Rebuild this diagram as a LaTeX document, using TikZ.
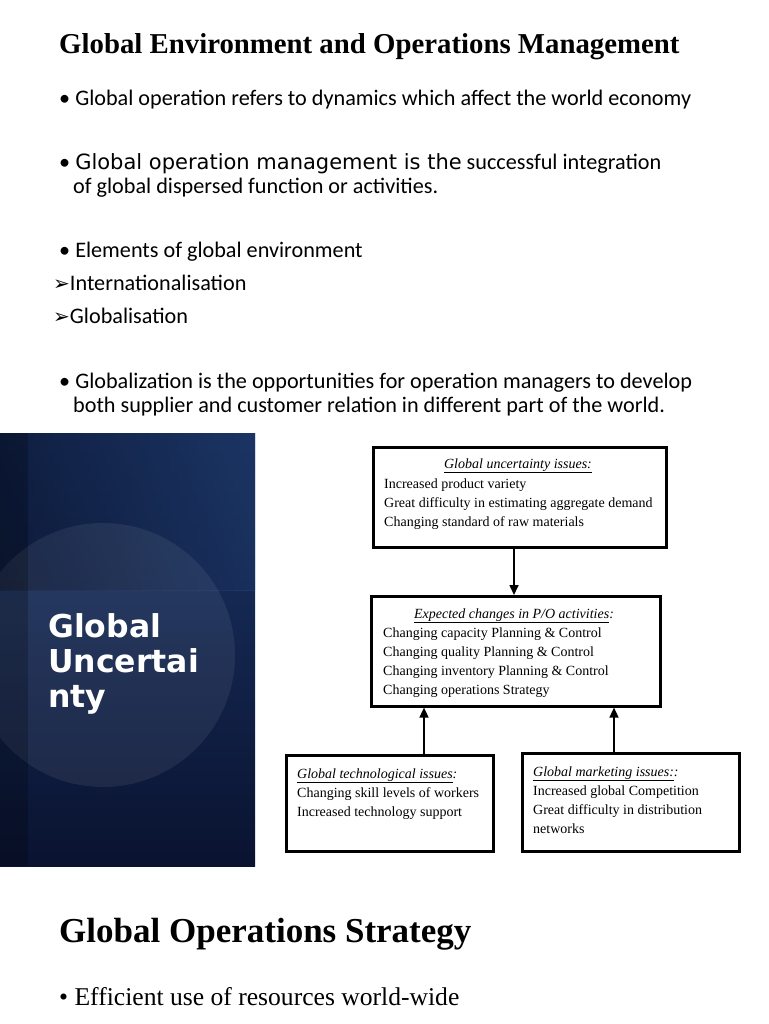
\documentclass[tikz,border=0pt]{standalone}
\usepackage{fontspec}
\setmainfont{Carlito}
\newfontfamily\dejavu{DejaVu Sans}
\newfontfamily\timesf{Liberation Serif}
\usetikzlibrary{arrows.meta,calc}
\tikzset{
  x=1pt,y=-1pt,
  body/.style={anchor=base west,inner sep=0,font=\fontsize{22.2}{25}\selectfont},
  box/.style={draw,line width=2.6pt,anchor=north west,inner sep=0},
  dt/.style={anchor=base west,inner sep=0,font=\timesf\fontsize{14}{16}\selectfont},
  dh/.style={anchor=base,inner sep=0,font=\timesf\itshape\fontsize{14}{16}\selectfont},
  arr/.style={line width=1.6pt,-{Triangle[length=10pt,width=9pt]}},
  ttl/.style={anchor=base west,inner sep=0,font=\timesf\bfseries},
  gut/.style={anchor=base west,inner sep=0,text=white,font=\dejavu\bfseries\fontsize{31.5}{35}\selectfont},
}
\definecolor{bgA}{HTML}{0A1330}
\definecolor{bgB}{HTML}{2B5192}
\definecolor{bgC}{HTML}{1B3567}
\begin{document}
\begin{tikzpicture}
\useasboundingbox[fill=white] (0,0) rectangle (768,1024);
% titles and bullets
\node[ttl,font=\timesf\bfseries\fontsize{28.8}{32}\selectfont] (t1) at (59,54) {Global Environment and Operations Management};
\node[body] (l1) at (59,106) {• Global operation refers to dynamics which affect the world economy};
\node[body] (l2) at (59,170) {• {\dejavu\fontsize{21}{25}\selectfont Global operation management is the} successful integration};
\node[body] (l3) at (73,194) {of global dispersed function or activities.};
\node[body] (l4) at (59,258) {• Elements of global environment};
\node[body] (l5) at (53,290) {{\dejavu\fontsize{20}{22}\selectfont ➢}Internationalisation};
\node[body] (l6) at (53,323) {{\dejavu\fontsize{20}{22}\selectfont ➢}Globalisation};
\node[body] (l7) at (59,388) {• Globalization is the opportunities for operation managers to develop};
\node[body] (l8) at (73,412) {both supplier and customer relation in different part of the world.};
% left panel
\begin{scope}
\clip (0,433) rectangle (255,866);
\shade[top color=bgC, middle color=bgB!85!bgA, bottom color=bgA] (0,433) rectangle (255,866);
\shade[left color=bgA, right color=bgB!80!bgA, opacity=0.5] (0,433) rectangle (255,590);
\fill[black,opacity=0.12] (0,433) rectangle (255,590);
\fill[white,opacity=0.07] (103,655) circle (132);
\fill[black,opacity=0.22] (0,433) rectangle (28,866);
\end{scope}
\node[gut] (g1) at (48,637) {Global};
\node[gut] (g2) at (48,672) {Uncertai};
\node[gut] (g3) at (48,707) {nty};
% diagram
\node[box,minimum width=293,minimum height=100] (b1) at (372,446) {};
\node[box,minimum width=289,minimum height=110] (b2) at (370,595) {};
\node[box,minimum width=207,minimum height=96] (b3) at (285,754) {};
\node[box,minimum width=217,minimum height=98] (b4) at (521,752) {};
\node[dh] (h1) at (518,468) {\underline{Global uncertainty issues:}};
\node[dt] (a1) at (384,488) {Increased product variety};
\node[dt] (a2) at (384,507) {Great difficulty in estimating aggregate demand};
\node[dt] (a3) at (384,526) {Changing standard of raw materials};
\node[dh] (h2) at (514,618) {\underline{Expected changes in P/O activities}:};
\node[dt] (c1) at (383,637) {Changing capacity Planning \& Control};
\node[dt] (c2) at (383,656) {Changing quality Planning \& Control};
\node[dt] (c3) at (383,675) {Changing inventory Planning \& Control};
\node[dt] (c4) at (383,694) {Changing operations Strategy};
\node[dh,anchor=base west] (h3) at (297,778) {\underline{Global technological issues}:};
\node[dt] (d1) at (297,797) {Changing skill levels of workers};
\node[dt] (d2) at (297,816) {Increased technology support};
\node[dh,anchor=base west] (h4) at (533,776) {\underline{Global marketing issues:}:};
\node[dt] (e1) at (533,795) {Increased global Competition};
\node[dt] (e2) at (533,814) {Great difficulty in distribution};
\node[dt] (e3) at (533,833) {networks};
\coordinate (p1) at (514,0);
\coordinate (p3) at (424,0);
\coordinate (p4) at (614,0);
\draw[arr] (b1.south -| p1) -- (b2.north -| p1);
\draw[arr] (b3.north -| p3) -- (b2.south -| p3);
\draw[arr] (b4.north -| p4) -- (b2.south -| p4);
% bottom
\node[ttl,font=\timesf\bfseries\fontsize{35}{38}\selectfont] (t2) at (59,942) {Global Operations Strategy};
\node[anchor=base west,inner sep=0,font=\timesf\fontsize{25.6}{28}\selectfont] (l9) at (59,1005) {• Efficient use of resources world-wide};
\end{tikzpicture}
\end{document}
